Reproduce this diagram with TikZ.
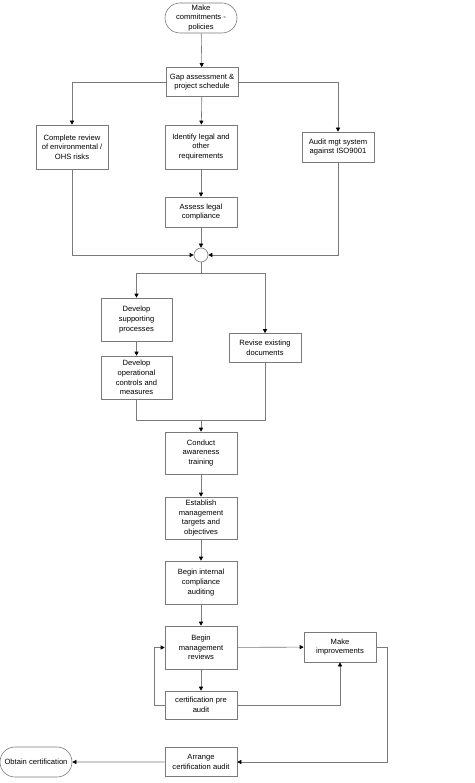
\documentclass[tikz,border=0pt]{standalone}
\usepackage{fontspec}
\setmainfont{Liberation Sans}
\usetikzlibrary{arrows.meta,shapes.misc}
\definecolor{ln}{HTML}{7A7A7A}
\tikzset{
  box/.style={draw=ln, fill=white, minimum width=72pt, inner sep=0pt, align=center,
    font=\fontsize{7.6}{9.7}\selectfont, line width=0.6pt},
  term/.style={box, rounded rectangle, minimum height=30pt},
  conn/.style={draw=ln, line width=0.6pt},
  arr/.style={conn, -{Triangle[length=4pt,width=4pt,color=black]}}
}
\begin{document}
\begin{tikzpicture}[x=1pt,y=-1pt]
\useasboundingbox (0,0) rectangle (474,783);
\node[term] (start) at (201,18) {Make\\commitments -\\policies};
\node[box, minimum height=29pt] (gap) at (202,82) {Gap assessment \&\\project schedule};
\node[box, minimum height=44pt] (review) at (72,147) {Complete review\\of environmental /\\OHS risks};
\node[box, minimum height=44pt] (ident) at (201,147) {Identify legal and\\other\\requirements};
\node[box, minimum height=30pt] (audit) at (338,147) {Audit mgt system\\against ISO9001};
\node[box, minimum height=30pt] (assess) at (201,212) {Assess legal\\compliance};
\node[draw=ln, fill=white, circle, minimum size=14pt, inner sep=0pt, line width=0.6pt] (circ) at (201,255) {};
\coordinate (j1) at (201,273);
\node[box, minimum width=71pt, minimum height=43pt] (supp) at (136.5,319.5) {Develop\\supporting\\processes};
\node[box, minimum width=71pt, minimum height=43pt] (oper) at (136.5,377.5) {Develop\\operational\\controls and\\measures};
\node[box, minimum height=29pt] (revise) at (265,348) {Revise existing\\documents};
\coordinate (j2) at (201,420);
\node[box, minimum height=42pt] (conduct) at (201,453) {Conduct\\awareness\\training};
\node[box, minimum height=42pt] (estab) at (201,518) {Establish\\management\\targets and\\objectives};
\node[box, minimum height=43pt] (internal) at (201,582.5) {Begin internal\\compliance\\auditing};
\node[box, minimum height=43pt] (mgmt) at (201,647.5) {Begin\\management\\reviews};
\node[box, minimum height=30pt] (improve) at (340,647) {Make\\improvements};
\node[box, minimum height=28pt] (prea) at (201,705) {certification pre\\audit};
\node[box, minimum height=29pt] (arrange) at (201,762) {Arrange\\certification audit};
\node[term] (obtain) at (36,762) {Obtain certification};
\coordinate (lp) at (154,705);
\coordinate (rp) at (387,647);

\draw[arr] (start) -- (gap);
\draw[arr] (gap.west) -| (review.north);
\draw[arr] (gap.east) -| (audit.north);
\draw[arr] (gap) -- (ident);
\draw[arr] (ident) -- (assess);
\draw[arr] (assess) -- (circ);
\draw[arr] (review.south) |- (circ.west);
\draw[arr] (audit.south) |- (circ.east);
\draw[conn] (circ.south) -- (j1);
\draw[arr] (j1) -| (supp.north);
\draw[arr] (j1) -| (revise.north);
\draw[arr] (supp) -- (oper);
\draw[conn] (oper.south) |- (j2);
\draw[conn] (revise.south) |- (j2);
\draw[arr] (j2) -- (conduct);
\draw[arr] (conduct) -- (estab);
\draw[arr] (estab) -- (internal);
\draw[arr] (internal) -- (mgmt);
\draw[arr] (mgmt) -- (prea);
\draw[arr] (mgmt) -- (improve);
\draw[arr] (prea.west) -- (lp) |- (mgmt.west);
\draw[arr] (prea.east) -| (improve.south);
\draw[arr] (improve.east) -- (rp) |- (arrange.east);
\draw[arr] (arrange) -- (obtain);
\end{tikzpicture}
\end{document}
